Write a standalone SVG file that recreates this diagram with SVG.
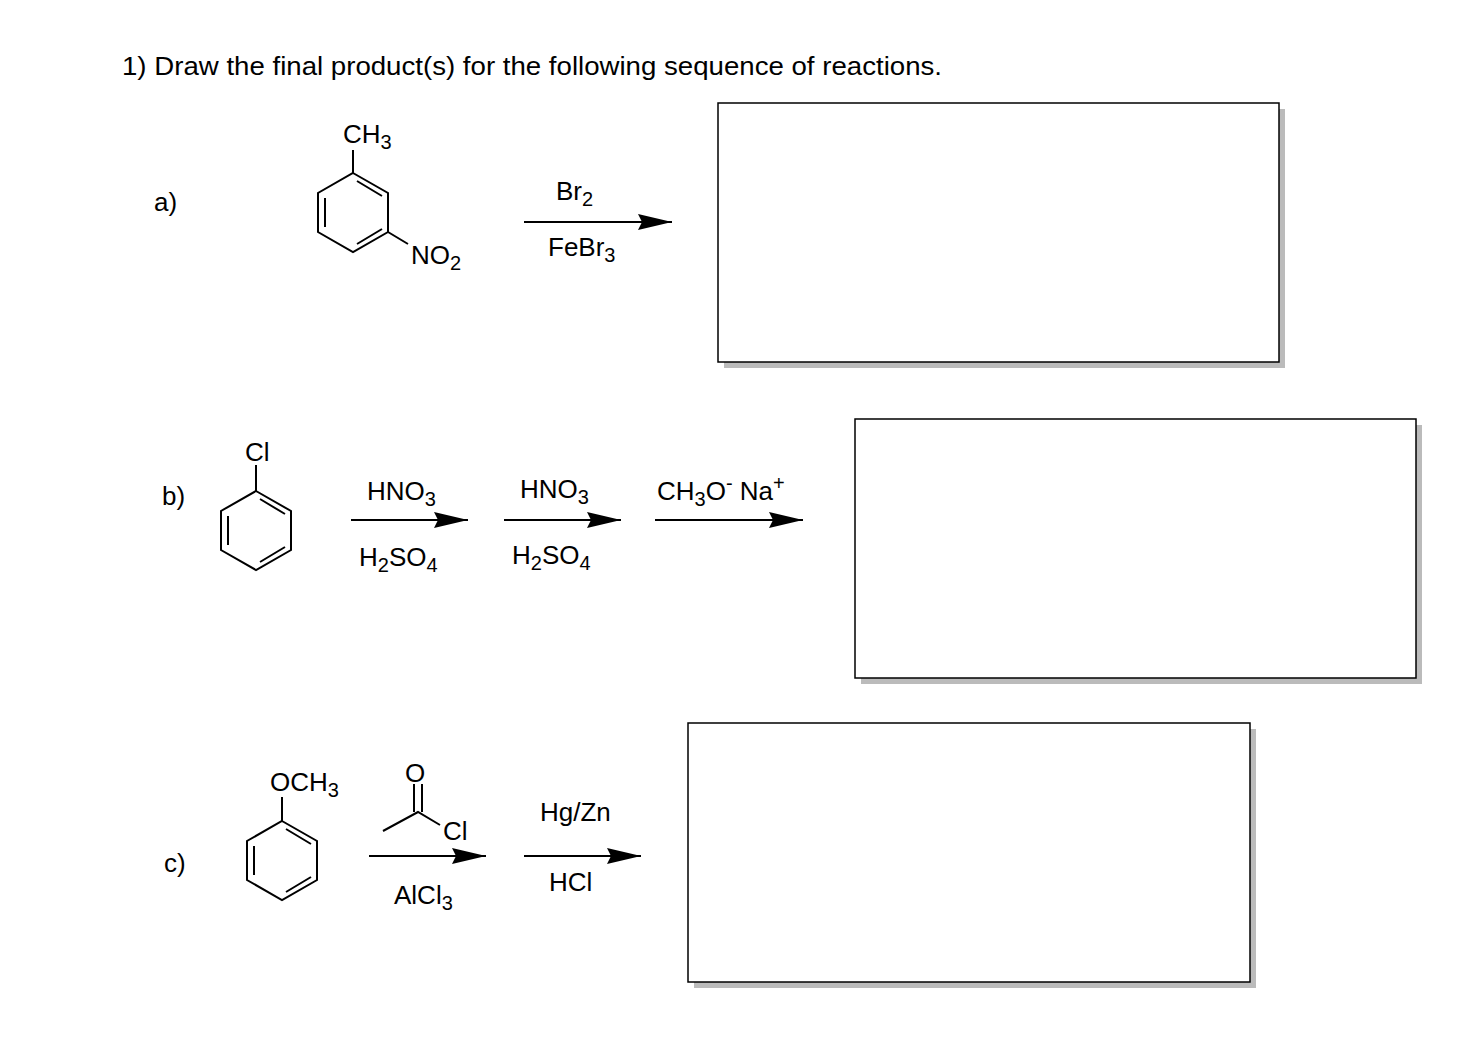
<svg xmlns="http://www.w3.org/2000/svg" width="1478" height="1042" viewBox="0 0 1478 1042">
<defs>
<marker id="ah" markerWidth="34" markerHeight="16" refX="34" refY="8" orient="auto" markerUnits="userSpaceOnUse"><path d="M0,0 L34,8 L0,16 L4,8 Z" fill="#000"/></marker>
</defs>
<style>
text{font-family:"Liberation Sans",Arial,sans-serif;font-size:26px;fill:#000}
.s{font-size:20px}
.b{stroke:#000;stroke-width:2;fill:none}
.box{fill:#fff;stroke:#000;stroke-width:1.5}
.sh{fill:#bbb}
.ar{stroke:#000;stroke-width:2;marker-end:url(#ah)}
</style>
<rect width="1478" height="1042" fill="#fff"/>
<text x="122" y="75" font-size="29" textLength="820" lengthAdjust="spacingAndGlyphs">1) Draw the final product(s) for the following sequence of reactions.</text>
<text x="154" y="211">a)</text>
<text x="162" y="505">b)</text>
<text x="164" y="872">c)</text>
<g id="mol-a">
<polygon class="b" points="353,173 388,193 388,232 353,252 318,232 318,193"/>
<path class="b" d="M325,198 V227 M357,181 L382,196 M357,244 L382,229 M353,150 V173 M388,232 L408,244"/>
<text x="343" y="143">CH<tspan class="s" dy="6">3</tspan></text>
<text x="411" y="264">NO<tspan class="s" dy="6">2</tspan></text>
</g>
<g id="mol-b">
<polygon class="b" points="256,491 291,511 291,550 256,570 221,550 221,511"/>
<path class="b" d="M228,516 V545 M260,499 L285,514 M260,562 L285,547 M256,465 V491"/>
<text x="245" y="461">Cl</text>
</g>
<g id="mol-c">
<polygon class="b" points="282,821 317,841 317,880 282,900 247,880 247,841"/>
<path class="b" d="M254,846 V875 M286,829 L311,844 M286,892 L311,877 M282,797 V821"/>
<text x="270" y="791">OCH<tspan class="s" dy="6">3</tspan></text>
</g>
<g id="acyl">
<path class="b" d="M383,831 L418,812 L440,825 M414,784 V812 M422,784 V812"/>
<text x="405" y="782">O</text>
<text x="443" y="840">Cl</text>
</g>
<g id="connectors">
<line class="ar" x1="524" y1="222" x2="672" y2="222"/>
<line class="ar" x1="351" y1="520" x2="468" y2="520"/>
<line class="ar" x1="504" y1="520" x2="621" y2="520"/>
<line class="ar" x1="655" y1="520" x2="803" y2="520"/>
<line class="ar" x1="369" y1="856" x2="486" y2="856"/>
<line class="ar" x1="524" y1="856" x2="641" y2="856"/>
</g>
<g id="labels">
<text x="556" y="200">Br<tspan class="s" dy="6">2</tspan></text>
<text x="548" y="256">FeBr<tspan class="s" dy="6">3</tspan></text>
<text x="367" y="500">HNO<tspan class="s" dy="6">3</tspan></text>
<text x="359" y="566">H<tspan class="s" dy="6">2</tspan><tspan dy="-6">SO</tspan><tspan class="s" dy="6">4</tspan></text>
<text x="520" y="498">HNO<tspan class="s" dy="6">3</tspan></text>
<text x="512" y="564">H<tspan class="s" dy="6">2</tspan><tspan dy="-6">SO</tspan><tspan class="s" dy="6">4</tspan></text>
<text x="657" y="500">CH<tspan class="s" dy="6">3</tspan><tspan dy="-6">O</tspan><tspan class="s" dy="-10">-</tspan><tspan dy="10"> Na</tspan><tspan class="s" dy="-10">+</tspan></text>
<text x="394" y="904">AlCl<tspan class="s" dy="6">3</tspan></text>
<text x="540" y="821">Hg/Zn</text>
<text x="549" y="891">HCl</text>
</g>
<g id="box-a"><rect class="sh" x="724" y="109" width="561" height="259"/><rect class="box" x="718" y="103" width="561" height="259"/></g>
<g id="box-b"><rect class="sh" x="861" y="425" width="561" height="259"/><rect class="box" x="855" y="419" width="561" height="259"/></g>
<g id="box-c"><rect class="sh" x="694" y="729" width="562" height="259"/><rect class="box" x="688" y="723" width="562" height="259"/></g>
</svg>
